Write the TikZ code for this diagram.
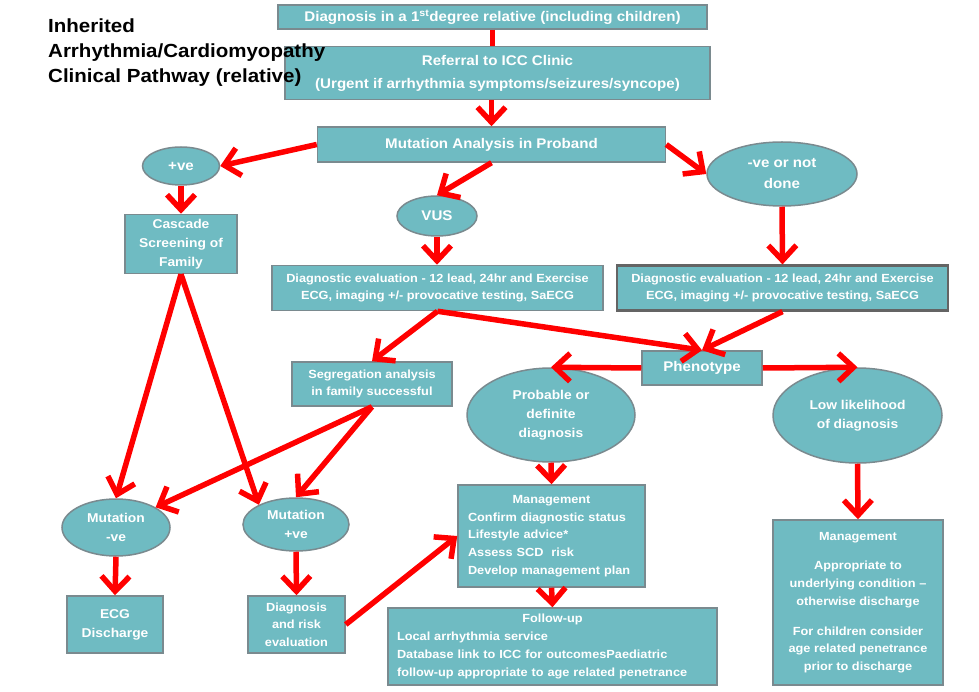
\documentclass[tikz,border=0pt]{standalone}
\usepackage{fontspec}
\setmainfont{Liberation Sans}[FakeStretch=1.08]
\usepackage{tikz}
\usetikzlibrary{arrows.meta,shapes.geometric}
\definecolor{iccteal}{RGB}{111,187,194}
\definecolor{iccgrey}{RGB}{122,138,143}
\definecolor{iccdark}{RGB}{100,100,100}

\begin{document}
\begin{tikzpicture}[x=1pt,y=-1pt,>={Straight Barb[length=15pt,width=28pt]},
                    inner sep=0pt]
  \tikzstyle{box}=[rectangle,draw=iccgrey,line width=1.5pt,fill=iccteal,text=white,align=center]
  \tikzstyle{oval}=[ellipse,draw=iccgrey,line width=1.5pt,fill=iccteal,text=white,align=center]
  \tikzstyle{big}=[font=\bfseries\fontsize{14}{21}\selectfont]
  \tikzstyle{mid}=[font=\bfseries\fontsize{12.8}{19}\selectfont]
  \tikzstyle{small}=[font=\bfseries\fontsize{11.8}{17.7}\selectfont]
  \tikzstyle{link}=[red,line width=5.5pt]

  \useasboundingbox (0,0) rectangle (979,692);

  \node[box,big,minimum width=429pt,minimum height=24pt] (first)  at (492.5,17)  {Diagnosis in a 1\textsuperscript{st}degree relative (including children)};
  \node[box,big,minimum width=425pt,minimum height=53pt] (refer)  at (497.5,73)  {Referral to ICC Clinic\\[2pt](Urgent if arrhythmia symptoms/seizures/syncope)};
  \node[box,big,minimum width=348pt,minimum height=35pt] (mut)    at (491.5,144.5) {Mutation Analysis in Proband};
  \node[oval,big,minimum width=77pt,minimum height=38pt]  (pos)    at (181,166)   {+ve};
  \node[box,mid,minimum width=112pt,minimum height=59pt] (casc)   at (181,244)   {Cascade\\Screening of\\Family};
  \node[oval,big,minimum width=80pt,minimum height=40pt]  (vus)    at (437,216)   {VUS};
  \node[oval,big,minimum width=150pt,minimum height=64pt] (neg)    at (782,174)   {-ve or not\\done};
  \node[box,small,minimum width=331pt,minimum height=45pt] (ldiag) at (437.5,288) {Diagnostic evaluation - 12 lead, 24hr and Exercise\\ECG, imaging +/- provocative testing, SaECG};
  \node[box,small,draw=iccdark,line width=2.2pt,minimum width=331pt,minimum height=45pt] (rdiag) at (782.5,288) {Diagnostic evaluation - 12 lead, 24hr and Exercise\\ECG, imaging +/- provocative testing, SaECG};
  \node[box,big,minimum width=120pt,minimum height=34pt] (pheno)  at (702,368)   {Phenotype};
  \node[box,small,minimum width=160pt,minimum height=44pt] (seg)   at (372,384)   {Segregation analysis\\in family successful};
  \node[oval,mid,minimum width=168pt,minimum height=94pt] (prob)   at (551,415)   {Probable or\\definite\\diagnosis};
  \node[oval,mid,minimum width=169pt,minimum height=95pt] (low)    at (857.5,415.5) {Low likelihood\\of diagnosis};
  \node[oval,mid,minimum width=108pt,minimum height=57pt] (mutneg) at (116,527.5) {Mutation\\-ve};
  \node[oval,mid,minimum width=106pt,minimum height=53pt] (mutpos) at (296,524.5) {Mutation\\+ve};
  \node[box,mid,minimum width=96pt,minimum height=57pt]   (ecg)    at (115,624.5) {ECG\\Discharge};
  \node[box,small,minimum width=97pt,minimum height=57pt] (risk)   at (296.5,624.5) {Diagnosis\\and risk\\evaluation};
  \node[box,small,minimum width=187pt,minimum height=102pt,text width=167pt,align=left] (mgmt) at (551.5,536)
       {\makebox[\hsize]{Management}\\Confirm diagnostic status\\Lifestyle advice*\\Assess SCD~ risk\\Develop management plan};
  \node[box,small,minimum width=329pt,minimum height=77pt,text width=311pt,align=left] (follow) at (552.5,646.5)
       {\makebox[\hsize]{Follow-up}\\Local arrhythmia service\\Database link to ICC for outcomesPaediatric\\follow-up appropriate to age related penetrance};
  \node[box,small,minimum width=170pt,minimum height=165pt] (rmgmt) at (858,602.5)
       {Management\\[12pt]Appropriate to\\underlying condition –\\otherwise discharge\\[12pt]For children consider\\age related penetrance\\prior to discharge};

  \node[anchor=north west,align=left,font=\bfseries\fontsize{19}{25}\selectfont] (title) at (48,18.5)
       {Inherited\\Arrhythmia/Cardiomyopathy\\Clinical Pathway (relative)};

  \draw[link] (first.south) -- (first.south |- refer.north);
  \path[link,->]
    (mut.north |- refer.south) edge (mut.north)
    (mut.west)      edge (pos.east)
    (mut.south)     edge (vus.north)
    (mut.east)      edge (neg.west)
    (pos.south)     edge (casc.north)
    (vus.south)     edge (vus.south |- ldiag.north)
    (neg.south)     edge (rdiag.north)
    (ldiag.south)   edge (pheno.north)
    (ldiag.south)   edge (seg.north)
    (rdiag.south)   edge (pheno.north)
    (pheno.west)    edge (prob.north)
    (pheno.east)    edge (low.north)
    (casc.south)    edge (mutneg.north)
    (casc.south)    edge (mutpos.152)
    (seg.south)     edge (mutneg.27)
    (seg.south)     edge (mutpos.north)
    (mutneg.south)  edge (ecg.north)
    (mutpos.south)  edge (risk.north)
    (risk.east)     edge (mgmt.west)
    (prob.south)    edge (mgmt.north)
    (mgmt.south)    edge (follow.north)
    (low.south)     edge (rmgmt.north);
\end{tikzpicture}
\end{document}
